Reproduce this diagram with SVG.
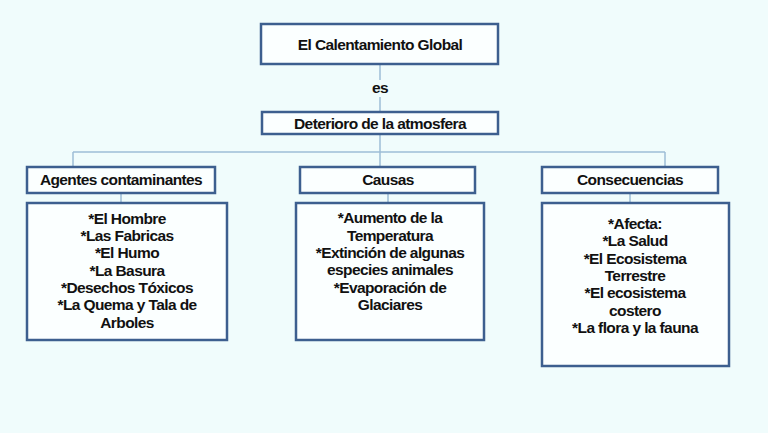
<svg xmlns="http://www.w3.org/2000/svg" width="768" height="433" viewBox="0 0 768 433">
<style>
.b{fill:#fbffff;stroke:#3d5f8f;stroke-width:2.5}
.t{font-family:"Liberation Sans Narrow","Liberation Sans",sans-serif;font-weight:bold;font-size:15.5px;fill:#111;text-anchor:middle;letter-spacing:-0.6px}
.c{stroke:#9dbdd6;stroke-width:1.5;fill:none}
</style>
<rect width="768" height="433" fill="#f0fcfc"/>
<g id="connectors">
<path class="c" d="M380 64V80M380 97V112M380 134V152M73 152H665M73 152V167M380 152V167M665 152V167M121 193V203M388 193V203M630 193V203"/>
</g>
<g id="n1"><rect class="b" x="261" y="24" width="237" height="40"/><text class="t" x="380" y="50">El Calentamiento Global</text></g>
<text class="t" x="380" y="93" font-size="12">es</text>
<g id="n2"><rect class="b" x="262" y="112" width="236" height="22"/><text class="t" x="380" y="129">Deterioro de la atmosfera</text></g>
<g id="n3"><rect class="b" x="27" y="167" width="188" height="26"/><text class="t" x="121" y="185" font-size="14">Agentes contaminantes</text></g>
<g id="n4"><rect class="b" x="300" y="167" width="175" height="26"/><text class="t" x="388" y="185" font-size="14">Causas</text></g>
<g id="n5"><rect class="b" x="542" y="167" width="176" height="26"/><text class="t" x="630" y="185" font-size="14">Consecuencias</text></g>
<g id="n6"><rect class="b" x="27" y="203" width="200" height="137"/>
<text class="t" x="127" y="224">*El Hombre</text><text class="t" x="127" y="241">*Las Fabricas</text><text class="t" x="127" y="258">*El Humo</text><text class="t" x="127" y="276">*La Basura</text><text class="t" x="127" y="293">*Desechos Tóxicos</text><text class="t" x="127" y="310">*La Quema y Tala de</text><text class="t" x="127" y="328">Arboles</text></g>
<g id="n7"><rect class="b" x="296" y="203" width="188" height="137"/>
<text class="t" x="390" y="223">*Aumento de la</text><text class="t" x="390" y="241">Temperatura</text><text class="t" x="390" y="258">*Extinción de algunas</text><text class="t" x="390" y="275">especies animales</text><text class="t" x="390" y="293">*Evaporación de</text><text class="t" x="390" y="310">Glaciares</text></g>
<g id="n8"><rect class="b" x="542" y="203" width="187" height="163"/>
<text class="t" x="635" y="229">*Afecta:</text><text class="t" x="635" y="246">*La Salud</text><text class="t" x="635" y="264">*El Ecosistema</text><text class="t" x="635" y="281">Terrestre</text><text class="t" x="635" y="298">*El ecosistema</text><text class="t" x="635" y="316">costero</text><text class="t" x="635" y="333">*La flora y la fauna</text></g>
</svg>
